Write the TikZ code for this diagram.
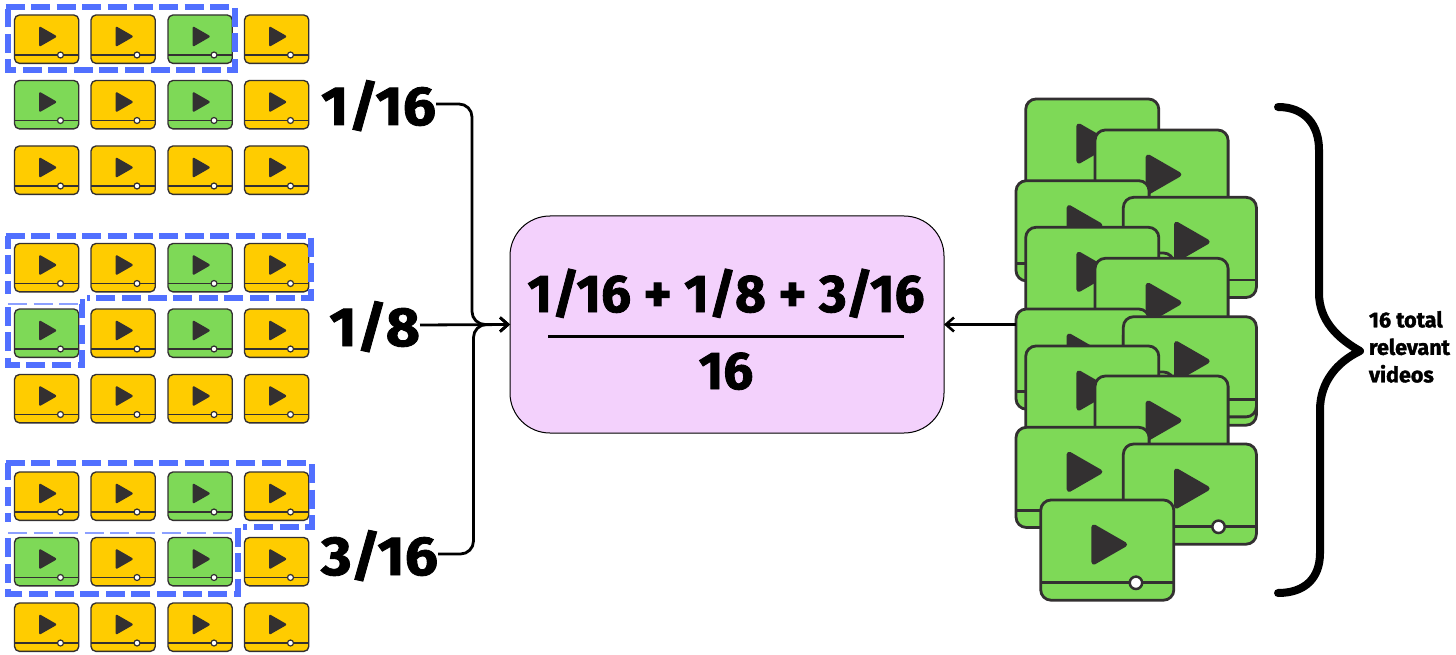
\documentclass[tikz,border=0pt]{standalone}
\usepackage{fontspec}
\setmainfont[BoldFeatures={FakeBold=1.6}]{Fira Sans}
\newfontfamily\labfont[BoldFeatures={FakeBold=1.6,FakeStretch=1.07}]{Fira Sans}
\usetikzlibrary{calc,arrows.meta}
\definecolor{vyellow}{HTML}{FFCC00}
\definecolor{vgreen}{HTML}{7ED957}
\definecolor{vdark}{HTML}{333031}
\definecolor{vblue}{HTML}{5170FF}
\definecolor{vthin}{HTML}{8CA0FF}
\definecolor{vpink}{HTML}{F3D1FC}
\tikzset{
  x=1pt,y=-1pt,
  vid/.style={draw=vdark,rectangle,anchor=north west,inner sep=0,outer sep=0},
  dashbox/.style={draw=vblue,line width=6pt,dash pattern=on 19pt off 6.6pt},
  thindash/.style={draw=vthin,line width=2pt,dash pattern=on 19pt off 6.6pt},
  conn/.style={draw=black,line width=2.8pt,rounded corners=13pt},
  tipped/.style={-{Straight Barb[length=8pt,width=14pt,line width=2.6pt]}},
  biglabel/.style={font=\labfont\fontsize{55}{55}\selectfont\bfseries,inner sep=0,outer sep=0,anchor=east,text height=42pt,text depth=0pt},
  frac/.style={font=\fontsize{53}{53}\selectfont\bfseries,inner sep=0,outer sep=0,anchor=base},
  sidetext/.style={font=\fontsize{21.5}{27.5}\selectfont\bfseries,inner sep=0,outer sep=0,align=left,anchor=north west}
}
% name, x, y, scale, fill
\newcommand{\vidicon}[5]{%
  \begin{scope}[shift={(#2,#3)}]
    \node[vid,fill=#5,line width=#4*1.35pt,rounded corners=#4*5pt,minimum width=#4*64.3pt,minimum height=#4*48.4pt] (#1) at (0,0) {};
    \draw[fill=vdark,draw=vdark,line join=round,line width=#4*2.4pt] (#4*25.7,#4*13) -- (#4*40.5,#4*21.5) -- (#4*25.7,#4*30) -- cycle;
    \draw[draw=vdark,line width=#4*1.35pt] (0,#4*40) -- (#4*64.3,#4*40);
    \draw[draw=vdark,fill=white,line width=#4*1.2pt] (#4*46,#4*40) circle[radius=#4*3pt];
  \end{scope}}
\newcommand{\vidgrid}[2]{%
  \foreach \c/\cx in {0/14.5,1/91,2/168,3/244.5}{%
    \foreach \r/\ry in {0/0,1/65.5,2/131}{%
      \def\fillc{vyellow}%
      \ifnum\r=0 \ifnum\c=2 \def\fillc{vgreen}\fi\fi
      \ifnum\r=1 \ifnum\c=0 \def\fillc{vgreen}\fi\ifnum\c=2 \def\fillc{vgreen}\fi\fi
      \vidicon{#1-\r-\c}{\cx}{#2+\ry}{1}{\fillc}
    }}}
\begin{document}
\begin{tikzpicture}
\fill[white] (0,0) rectangle (1456,655);
\useasboundingbox (0,0) rectangle (1456,655);

\vidgrid{ga}{15}
\vidgrid{gb}{243.5}
\vidgrid{gc}{472}

% selection outlines
\path[dashbox] (5.5,7) -- (235,7) -- (235,70.5) -- (8,70.5) -- (8,9);

\path[dashbox] (5.5,235.7) -- (310.7,235.7) -- (310.7,298.3) -- (87,298.3);
\path[dashbox] (81.7,299) -- (81.7,365) -- (8,365) -- (8,236);
\fill[white] (5,294) rectangle (80,304);
\path[thindash] (8,304) -- (81,304);

\path[dashbox] (5.5,463.3) -- (312,463.3) -- (312,527.3) -- (243,527.3);
\path[dashbox] (237.5,527.5) -- (237.5,594) -- (8,594) -- (8,463);
\fill[white] (5,522) rectangle (235,532);
\path[thindash] (8,532.5) -- (237,532.5);

% central box
\node[draw=black,fill=vpink,line width=1pt,rounded corners=40pt,minimum width=434pt,minimum height=217pt,inner sep=0,outer sep=0,anchor=north west] (mapbox) at (510,216) {};
\node[frac] (sumtext) at (726,312) {1/16 + 1/8 + 3/16};
\node[frac] (dentext) at (726,389) {16};
\draw[line width=3pt] (548,336) -- (904,336);

% labels
\node[biglabel] (laba) at (436,104) {1/16};
\node[biglabel] (labb) at (420,325) {1/8};
\node[biglabel] (labc) at (438,554) {3/16};

% stack
\foreach \n/\ix/\iy in {sa/1025.7/99,sb/1095/130,sc/1016/180.7,sd/1123.3/197.3,se/1040.7/253,sf/1025.7/227.3,sg/1095/258.3,
  sh/1016/309,si/1123.3/325,sj/1123.3/316.7,sk/1040.7/372,sl/1025.7/346,sm/1095/376,sn/1016/427.3,so/1123.3/444,sp/1040.7/500}{
  \vidicon{\n}{\ix}{\iy}{2.07}{vgreen}
}

% connectors
\draw[conn,tipped] (laba.east) -| ($(mapbox.west)+(-38,0)$) -- (mapbox.west);
\draw[conn,tipped] (labb.east) -- (mapbox.west);
\draw[conn,tipped] (labc.east) -| ($(mapbox.west)+(-36.5,0)$) -- (mapbox.west);
\draw[conn,tipped] (sh.west |- mapbox.east) -- (mapbox.east);

% brace
\draw[line width=8pt,line cap=round,line join=round] (1278,107) .. controls (1305,107) and (1319,125) .. (1319,150) -- (1319,293)
  .. controls (1319,320) and (1337,338) .. (1360,351)
  .. controls (1337,362) and (1320,382) .. (1320,410) -- (1320,553)
  .. controls (1320,578) and (1305,593) .. (1278,593);
\node[sidetext] (sidelabel) at (1369,311) {16 total\\relevant\\videos};
\end{tikzpicture}
\end{document}
